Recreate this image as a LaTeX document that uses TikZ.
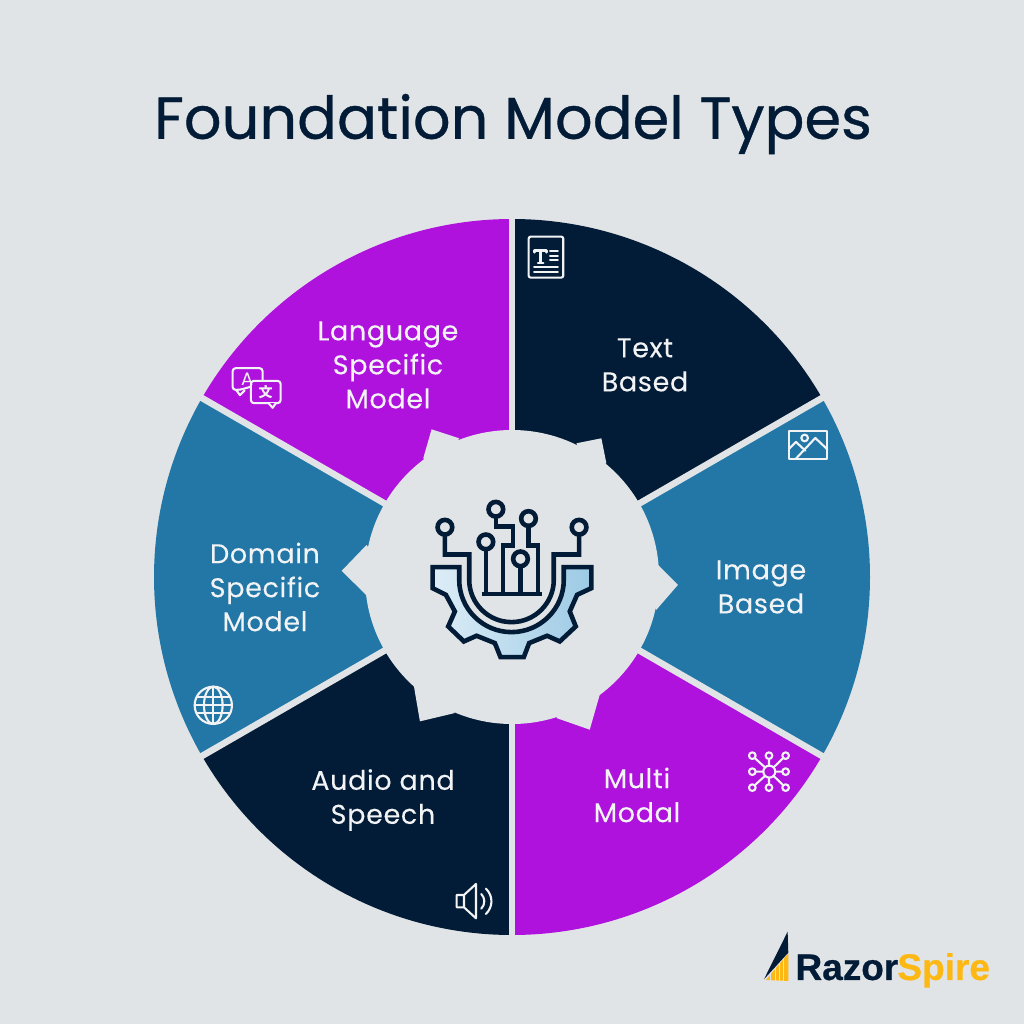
\documentclass[tikz,border=0pt]{standalone}
\usepackage{fontspec}
\setmainfont{Poppins}
\newfontfamily\titlefont[FakeBold=0.6]{Poppins}
\newfontfamily\labelfont[LetterSpace=2.5,FakeBold=0.15]{Poppins}
\newfontfamily\logofont[FakeBold=0.6]{Liberation Sans Bold}
\newfontfamily\cjkfont{Noto Sans CJK SC}
\usetikzlibrary{calc}
\definecolor{bgc}{HTML}{E1E4E6}
\definecolor{navyc}{HTML}{021B36}
\definecolor{bluec}{HTML}{2277A6}
\definecolor{purplec}{HTML}{AE12DC}
\definecolor{goldc}{HTML}{FDB813}
\definecolor{paper}{HTML}{F2F3F5}
\definecolor{gearL}{HTML}{DDEDF7}
\definecolor{gearR}{HTML}{9CCAE5}
\tikzset{
  label/.style={text=paper,align=center,font=\labelfont\fontsize{27}{34}\selectfont,inner sep=0pt},
  icon/.style={draw=paper,line width=2.1pt,line join=round,line cap=round},
  cct/.style={draw=navyc,line width=4.6pt,line join=miter},
  pad/.style={draw=navyc,line width=4.6pt,fill=bgc},
  sep/.style={draw=bgc,line width=6.5pt},
  tooth/.style={fill=bgc}
}
\newcommand{\slice}[3]{\fill[#3] (512,577) -- ($(512,577)+(#1:358)$) arc[start angle=#1,end angle=#2,radius=358] -- cycle;}
\begin{document}
\begin{tikzpicture}[x=1pt,y=-1pt]
\useasboundingbox (0,0) rectangle (1024,1024);
\fill[bgc] (0,0) rectangle (1024,1024);
\node[text=navyc,font=\titlefont\fontsize{59}{60}\selectfont,inner sep=0pt] (title) at (513,124) {Foundation Model Types};
% wheel
\slice{-90}{-30}{navyc}
\slice{-30}{30}{bluec}
\slice{30}{90}{purplec}
\slice{90}{150}{navyc}
\slice{150}{210}{bluec}
\slice{210}{270}{purplec}
\foreach \a in {-90,-30,30,90,150,210}{
  \draw[sep] (512,577) -- ($(512,577)+(\a:362)$);
}
% inner gear
\fill[bgc] (512,577) circle[radius=147];
\begin{scope}[shift={(340,410)},x=0.333pt,y=-0.333pt]
\fill[tooth] (275,58) -- (358,85) -- (300,180) -- (250,145) -- cycle;
\fill[tooth] (785,85) -- (710,100) -- (740,190) -- (800,160) -- cycle;
\fill[tooth] (1015,525) -- (955,465) -- (900,530) -- (950,600) -- cycle;
\fill[tooth] (750,960) -- (650,925) -- (700,840) -- (780,855) -- cycle;
\fill[tooth] (240,935) -- (345,910) -- (300,820) -- (222,830) -- cycle;
\fill[tooth] (5,483) -- (80,405) -- (130,480) -- (78,555) -- cycle;
% gear icon
\path[left color=gearL,right color=gearR] (278,472) -- (358,472) -- (358,510) arc[start angle=180,end angle=0,x radius=157,y radius=157] -- (672,472) -- (755,472) -- (755,535) -- (712,555) -- (690,605) -- (708,650) -- (660,695) -- (622,678) -- (568,700) -- (552,742) -- (482,742) -- (465,700) -- (410,678) -- (372,695) -- (325,650) -- (345,605) -- (318,555) -- (278,535) -- cycle;
\draw[cct] (278,472) -- (358,472) -- (358,510) arc[start angle=180,end angle=0,x radius=157,y radius=157] -- (672,472) -- (755,472) -- (755,535) -- (712,555) -- (690,605) -- (708,650) -- (660,695) -- (622,678) -- (568,700) -- (552,742) -- (482,742) -- (465,700) -- (410,678) -- (372,695) -- (325,650) -- (345,605) -- (318,555) -- (278,535) -- cycle;
\draw[cct] (315,375) -- (315,434) -- (388,434) -- (388,510) arc[start angle=180,end angle=0,x radius=127,y radius=127] -- (642,434) -- (718,434) -- (718,375);
\draw[cct] (425,552) -- (607,552);
\draw[cct] (438,552) -- (438,420);
\draw[cct] (490,552) -- (490,406) -- (520,406) -- (520,350) -- (468,350) -- (468,322);
\draw[cct] (542,552) -- (542,470);
\draw[cct] (595,552) -- (595,406) -- (566,406) -- (566,350);
\draw[pad] (315,352) circle[radius=22];
\draw[pad] (718,352) circle[radius=22];
\draw[pad] (468,298) circle[radius=22];
\draw[pad] (566,326) circle[radius=22];
\draw[pad] (438,396) circle[radius=22];
\draw[pad] (542,447) circle[radius=22];
\end{scope}
% labels
\node[label] (text) at (645,365) {Text\\Based};
\node[label] (image) at (761,587) {Image\\Based};
\node[label] (multi) at (637,795) {Multi\\Modal};
\node[label] (audio) at (383,800) {Audio and\\Speech};
\node[label] (domain) at (265,587) {Domain\\Specific\\Model};
\node[label] (lang) at (388,365) {Language\\Specific\\Model};
% document icon
\begin{scope}[shift={(510,225)},x=0.333pt,y=-0.333pt]
\draw[icon,rounded corners=2pt] (56,35) rectangle (160,158);
\draw[icon,line width=2.4pt] (74,82) -- (74,76) -- (110,76) -- (110,82) (92,76) -- (92,114) (84,114) -- (100,114);
\draw[icon,line width=1.9pt] (120,78) -- (144,78) (120,92) -- (144,92) (120,106) -- (144,106) (72,126) -- (144,126) (72,142) -- (144,142);
\end{scope}
% image icon
\begin{scope}[shift={(770,410)},x=0.333pt,y=-0.333pt]
\draw[icon] (58,62) rectangle (172,148);
\draw[icon] (104,84) circle[radius=10];
\draw[icon] (58,116) -- (78,96) -- (106,122);
\draw[icon] (78,146) -- (136,84) -- (172,118);
\end{scope}
% network icon
\begin{scope}[shift={(730,735)},x=0.333pt,y=-0.333pt]
\draw[icon] (118,110) circle[radius=18];
\foreach \x/\y in {67/62,117/62,167/62,67/110,167/110,67/158,117/158,167/158}{
  \draw[icon] (\x,\y) circle[radius=10];
}
\draw[icon] (74,69) -- (105,97) (117,72) -- (117,92) (160,69) -- (131,97) (77,110) -- (100,110) (136,110) -- (157,110) (74,151) -- (105,123) (117,128) -- (117,148) (160,151) -- (131,123);
\end{scope}
% speaker icon
\begin{scope}[shift={(440,870)},x=0.333pt,y=-0.333pt]
\draw[icon] (50,75) -- (72,75) -- (108,42) -- (108,145) -- (72,112) -- (50,112) -- cycle (72,75) -- (72,112);
\draw[icon] (124,72) .. controls (136,84) and (136,104) .. (124,116);
\draw[icon] (138,56) .. controls (160,78) and (160,110) .. (138,132);
\end{scope}
% globe icon
\begin{scope}[shift={(180,680)},x=0.333pt,y=-0.333pt]
\draw[icon] (100,76) circle[radius=56];
\draw[icon] (100,76) circle[x radius=28,y radius=56];
\draw[icon] (100,20) -- (100,132) (44,76) -- (156,76) (51,52) -- (149,52) (51,100) -- (149,100);
\end{scope}
% translate icon
\begin{scope}[shift={(190,230)},x=0.333pt,y=-0.333pt]
\draw[icon,rounded corners=3pt] (185,470) -- (150,480) -- (128,480) -- (128,415) -- (218,415) -- (218,455);
\draw[icon] (140,482) -- (150,496) -- (164,482);
\draw[icon,fill=purplec,rounded corners=3pt] (183,453) rectangle (272,520);
\draw[icon,fill=purplec] (236,520) -- (248,534) -- (258,520);
\node[text=paper,inner sep=0pt,font=\fontsize{18}{18}\selectfont] (glyphA) at (172,449) {A};
\node[text=paper,inner sep=0pt,font=\cjkfont\bfseries\fontsize{14}{14}\selectfont] (glyphB) at (227,488) {文};
\end{scope}
% logo
\begin{scope}[shift={(750,920)},x=0.333pt,y=-0.333pt]
\fill[goldc] (48,180) -- (115,100) -- (115,183) -- cycle;
\foreach \x in {62,75,88,101}{
  \draw[bgc,line width=0.8pt] (\x,100) -- (\x,185);
}
\fill[navyc] (42,178) -- (113,35) -- (115,98) -- cycle;
\node[anchor=base west,inner sep=0pt,text=navyc,font=\logofont\fontsize{37}{37}\selectfont] (razor) at (136,180) {Razor};
\node[anchor=base west,inner sep=0pt,text=goldc,font=\logofont\fontsize{37}{37}\selectfont] (spire) at (442,180) {Spire};
\end{scope}
\end{tikzpicture}
\end{document}
